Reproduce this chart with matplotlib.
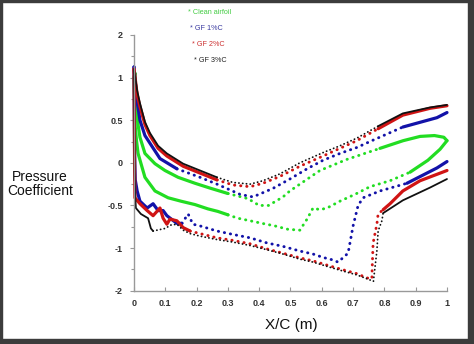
import numpy as np
import matplotlib
matplotlib.use("Agg")
import matplotlib.pyplot as plt
from matplotlib.patches import Rectangle

plt.rcParams['font.family'] = ['Liberation Sans', 'DejaVu Sans']

# values (x/c, Cp)
black_up_x = [0.0, 0.003, 0.01, 0.019, 0.035, 0.051, 0.077, 0.105, 0.157, 0.211, 0.265, 0.316,
              0.371, 0.412, 0.466, 0.53, 0.604, 0.658, 0.712, 0.78, 0.859, 0.946, 1.0]
black_up_cp = [1.2, 1.06, 0.85, 0.70, 0.48, 0.35, 0.20, 0.11, -0.01, -0.09, -0.17, -0.23,
               -0.25, -0.21, -0.13, 0.0, 0.12, 0.20, 0.29, 0.43, 0.58, 0.65, 0.68]
red_up_cp = [1.2, 1.03, 0.80, 0.66, 0.45, 0.32, 0.17, 0.08, -0.04, -0.12, -0.20, -0.26,
             -0.28, -0.24, -0.16, -0.04, 0.08, 0.17, 0.26, 0.40, 0.56, 0.64, 0.67]

blue_up_x = [0.0, 0.004, 0.01, 0.019, 0.035, 0.051, 0.083, 0.137, 0.211, 0.265, 0.339, 0.38,
             0.444, 0.498, 0.553, 0.604, 0.658, 0.712, 0.76, 0.859, 0.968, 1.0]
blue_up_cp = [1.25, 0.95, 0.72, 0.50, 0.32, 0.23, 0.05, -0.07, -0.17, -0.25, -0.37, -0.40,
              -0.30, -0.19, -0.07, 0.03, 0.11, 0.18, 0.26, 0.42, 0.53, 0.59]

green_up_x = [0.0, 0.003, 0.006, 0.019, 0.035, 0.067, 0.099, 0.141, 0.195, 0.246, 0.30, 0.364,
              0.40, 0.43, 0.476, 0.498, 0.53, 0.594, 0.68, 0.786, 0.86, 0.914, 0.96, 0.99, 1.0]
green_up_cp = [1.0, 1.11, 0.62, 0.30, 0.11, -0.01, -0.09, -0.17, -0.24, -0.30, -0.36, -0.42,
               -0.50, -0.50, -0.40, -0.33, -0.25, -0.09, 0.04, 0.17, 0.26, 0.31, 0.32, 0.30, 0.26]

green_lo_x = [0.0, 0.002, 0.004, 0.008, 0.013, 0.035, 0.067, 0.109, 0.150, 0.195, 0.236, 0.268,
              0.30, 0.332, 0.371, 0.409, 0.45, 0.492, 0.53, 0.553, 0.572, 0.594, 0.617, 0.658,
              0.706, 0.754, 0.818, 0.882, 0.939, 0.978, 1.0]
green_lo_cp = [1.0, 0.7, 0.42, 0.26, 0.11, -0.17, -0.33, -0.41, -0.45, -0.49, -0.54, -0.57,
               -0.61, -0.65, -0.68, -0.71, -0.74, -0.78, -0.79, -0.66, -0.53, -0.55, -0.53, -0.45,
               -0.37, -0.28, -0.21, -0.11, 0.03, 0.16, 0.26]

blue_lo_x = [0.0, 0.001, 0.002, 0.004, 0.010, 0.019, 0.042, 0.061, 0.077, 0.093, 0.105, 0.137,
             0.153, 0.173, 0.188, 0.211, 0.265, 0.316, 0.371, 0.425, 0.476, 0.53, 0.572, 0.604,
             0.636, 0.652, 0.684, 0.70, 0.716, 0.732, 0.786, 0.872, 0.968, 1.0]
blue_lo_cp = [1.25, 0.6, 0.1, -0.2, -0.33, -0.45, -0.53, -0.48, -0.56, -0.56, -0.62, -0.71,
              -0.71, -0.60, -0.72, -0.74, -0.80, -0.84, -0.88, -0.94, -0.98, -1.07, -1.14, -1.22,
              -1.28, -1.33, -1.12, -0.74, -0.50, -0.41, -0.33, -0.24, -0.06, 0.015]

red_lo_x = [0.0, 0.001, 0.002, 0.003, 0.019, 0.042, 0.061, 0.083, 0.093, 0.105, 0.115, 0.137,
            0.157, 0.179, 0.211, 0.265, 0.316, 0.371, 0.425, 0.476, 0.53, 0.572, 0.626, 0.668,
            0.712, 0.744, 0.760, 0.761, 0.764, 0.776, 0.780, 0.796, 0.818, 0.859, 0.914, 1.0]
red_lo_cp = [1.2, 0.5, -0.1, -0.41, -0.48, -0.56, -0.62, -0.53, -0.65, -0.72, -0.66, -0.68,
             -0.76, -0.80, -0.83, -0.88, -0.91, -0.95, -1.02, -1.12, -1.23, -1.30, -1.42, -1.51,
             -1.60, -1.70, -1.72, -1.47, -0.94, -0.72, -0.60, -0.55, -0.48, -0.33, -0.21, -0.09]

black_lo_x = [0.0, 0.001, 0.002, 0.004, 0.006, 0.022, 0.045, 0.054, 0.061, 0.099, 0.118, 0.137,
              0.157, 0.179, 0.211, 0.265, 0.316, 0.371, 0.425, 0.476, 0.53, 0.572, 0.626, 0.668,
              0.712, 0.744, 0.765, 0.768, 0.776, 0.780, 0.792, 0.796, 0.859, 0.946, 1.0]
black_lo_cp = [1.2, 0.5, -0.1, -0.4, -0.53, -0.60, -0.65, -0.77, -0.80, -0.77, -0.73, -0.72,
               -0.79, -0.83, -0.86, -0.90, -0.93, -0.97, -1.04, -1.14, -1.26, -1.33, -1.45, -1.54,
               -1.63, -1.72, -1.78, -1.58, -1.07, -0.80, -0.68, -0.59, -0.44, -0.29, -0.19]

y_ticks = [-2, -1, -0.5, 0, 0.5, 1, 2]
y_tick_labels = ['-2', '-1', '-0.5', '0', '0.5', '1', '2']
x_ticks = [0, 0.1, 0.2, 0.3, 0.4, 0.5, 0.6, 0.7, 0.8, 0.9, 1]
x_tick_labels = ['0', '0.1', '0.2', '0.3', '0.4', '0.5', '0.6', '0.7', '0.8', '0.9', '1']
legend_names = ['* Clean airfoil', '* GF 1%C', '* GF 2%C', '* GF 3%C']

GREEN = '#22dd22'
BLUE = '#1212a8'
RED = '#d01414'
BLACK = '#111111'


# the picture's y axis: ticks equally spaced although values are not
def fwd(v):
    v = np.asarray(v, dtype=float)
    return np.where(np.abs(v) <= 1, 2 * v, np.sign(v) * (np.abs(v) + 1))


def inv(p):
    p = np.asarray(p, dtype=float)
    return np.where(np.abs(p) <= 2, p / 2, np.sign(p) * (np.abs(p) - 1))


def draw(ax, x, cp, color, a, b, lw_solid, lw_dot):
    x = np.asarray(x)
    cp = np.asarray(cp)
    i = np.where(x <= a)[0][-1]
    j = np.where(x >= b)[0][0]
    ax.plot(x[:i + 1], cp[:i + 1], color=color, lw=lw_solid, solid_capstyle='round',
            solid_joinstyle='round', clip_on=False)
    ax.plot(x[i:j + 1], cp[i:j + 1], color=color, lw=lw_dot, linestyle=(0, (0.1, 2.0)),
            dash_capstyle='round', clip_on=False)
    ax.plot(x[j:], cp[j:], color=color, lw=lw_solid, solid_capstyle='round',
            solid_joinstyle='round', clip_on=False)


fig = plt.figure(figsize=(4.74, 3.44), dpi=100)
ax = fig.add_axes([0.2827, 0.155, 0.6603, 0.7433])
ax.set_yscale('function', functions=(fwd, inv))

draw(ax, green_lo_x, green_lo_cp, GREEN, 0.30, 0.882, 2.3, 2.1)
draw(ax, green_up_x, green_up_cp, GREEN, 0.30, 0.786, 2.3, 2.1)
draw(ax, blue_lo_x, blue_lo_cp, BLUE, 0.153, 0.872, 2.3, 2.1)
draw(ax, blue_up_x, blue_up_cp, BLUE, 0.137, 0.859, 2.3, 2.1)
draw(ax, red_lo_x, red_lo_cp, RED, 0.179, 0.796, 2.3, 2.1)
draw(ax, black_up_x, red_up_cp, RED, 0.265, 0.78, 2.3, 2.1)
draw(ax, black_lo_x, black_lo_cp, BLACK, 0.061, 0.796, 1.3, 1.3)
draw(ax, black_up_x, black_up_cp, BLACK, 0.265, 0.78, 1.3, 1.3)

ax.set_xlim(0, 1)
ax.set_ylim(-2, 2)
ax.set_yticks(y_ticks)
ax.set_yticklabels(y_tick_labels)
ax.set_yticks([-1.5, -0.75, -0.25, 0.25, 0.75, 1.5], minor=True)
ax.set_xticks(x_ticks)
ax.set_xticklabels(x_tick_labels)

for s in ['top', 'right']:
    ax.spines[s].set_visible(False)
for s in ['left', 'bottom']:
    ax.spines[s].set_color('#999999')
    ax.spines[s].set_linewidth(1.0)

ax.tick_params(axis='y', which='major', direction='out', length=3, width=0.8, color='#999999',
               labelsize=6.5, labelcolor='#333333', pad=5)
ax.tick_params(axis='y', which='minor', direction='out', length=2, width=0.8, color='#999999')
ax.tick_params(axis='x', which='major', direction='in', length=3, width=0.8, color='#999999',
               labelsize=6.5, labelcolor='#333333', pad=6)
for lab in ax.get_xticklabels() + ax.get_yticklabels():
    lab.set_fontweight('bold')

fig.text(40 / 474, 1 - 184 / 344, 'Pressure\nCoefficient', ha='center', va='center',
         fontsize=10, linespacing=1.0, color='#111111')
fig.text(291 / 474, 1 - 325 / 344, 'X/C (m)', ha='center', va='center', fontsize=11,
         color='#111111')

legend_colors = ['#44cc44', '#3a3aa0', '#cc3030', '#222222']
legend_pos = [(210, 13), (206, 28), (208, 44), (210, 60)]
for name, c, (px, py) in zip(legend_names, legend_colors, legend_pos):
    fig.text(px / 474, 1 - py / 344, name, color=c, fontsize=5.2, ha='center', va='center')

# dark frame round the picture
frame = '#3c3c3c'
fig.patches.extend([
    Rectangle((0, 0), 1, 5 / 344, transform=fig.transFigure, color=frame, zorder=10),
    Rectangle((0, 1 - 2 / 344), 1, 2 / 344, transform=fig.transFigure, color=frame, zorder=10),
    Rectangle((0, 0), 2 / 474, 1, transform=fig.transFigure, color=frame, zorder=10),
    Rectangle((1 - 6 / 474, 0), 6 / 474, 1, transform=fig.transFigure, color=frame, zorder=10),
])

fig.savefig('out.png', dpi=100)
